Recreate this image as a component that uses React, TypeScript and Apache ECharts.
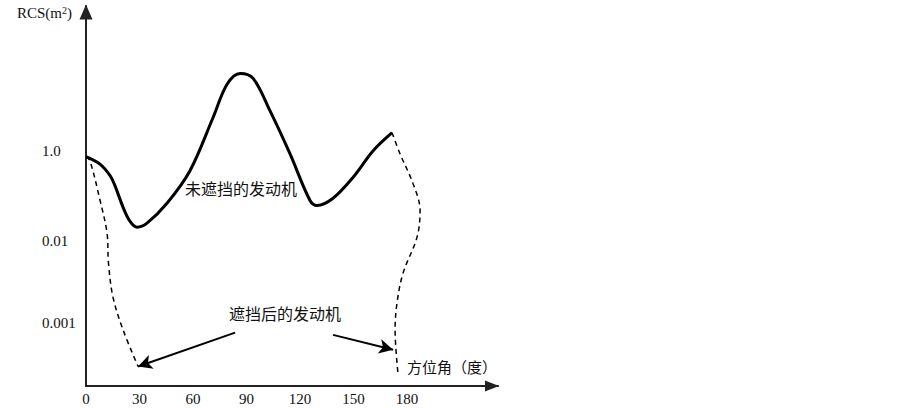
import React, { useEffect, useRef } from "react";
import * as echarts from "echarts";

// x: azimuth (deg); y: relative RCS level (schematic units)
const solidCurve: [number, number][] = [
  [0, -1.3], [8, -3], [13.5, -5.5], [16, -7.5], [20.8, -12.5], [24.5, -15.5], [28.6, -16.9],
  [34.2, -16.0], [45.4, -11.6], [58.3, -4.4], [71.2, 7.3], [79.1, 14.7],
  [86.4, 17.1], [93.7, 16.0], [103.2, 8.8], [114.4, -0.7], [125.6, -11.0],
  [129.6, -12.1], [138.5, -10.5], [149.7, -5.9], [161.0, 0], [171.6, 4.0],
];
const dashedLeft: [number, number][] = [
  [0, -1.3], [2.2, -2.2], [7.9, -11.0], [11.8, -18.2], [12.6, -24.8],
  [15.1, -32.3], [20.8, -39.6], [29.2, -47.7],
];
const dashedRight: [number, number][] = [
  [171.6, 4.0], [176.1, -0.7], [183.4, -7.3], [187.3, -13.2], [185.6, -19.1],
  [177.8, -27.0], [174.4, -33.6], [173.3, -39.6], [175.0, -49.5],
];
const arrowLeft: [number, number][] = [[83.6, -40.2], [29.2, -47.7]];
const arrowRight: [number, number][] = [[138.5, -40.7], [172.2, -44.0]];

const xTickValues = [0, 30, 60, 90, 120, 150, 180];
const yTickValues = [0, -20, -38];
const yTickLabels = ["1.0", "0.01", "0.001"];

const labelUnshielded = "未遮挡的发动机";
const labelShielded = "遮挡后的发动机";
const xAxisName = "方位角（度）";

export default function App() {
  const ref = useRef<HTMLDivElement>(null);
  useEffect(() => {
    if (!ref.current) return;
    const chart = echarts.init(ref.current, null, { renderer: "svg" });
    const serif = "Liberation Serif";
    const cjk = "Noto Sans CJK SC";
    chart.setOption({
      animation: false,
      grid: { left: 86, top: 6, width: 412, height: 380, containLabel: false },
      xAxis: {
        type: "value",
        min: 0,
        max: 231,
        splitLine: { show: false },
        axisTick: { show: false },
        axisLine: {
          show: true,
          onZero: false,
          lineStyle: { color: "#222", width: 2 },
          symbol: ["none", "triangle"],
          symbolSize: [11, 14],
          symbolOffset: [0, -6],
        },
        axisLabel: {
          customValues: xTickValues,
          formatter: (v: number) => String(v),
          fontFamily: serif,
          fontSize: 15,
          color: "#111",
          margin: 5,
        },
      },
      yAxis: {
        type: "value",
        min: -52,
        max: 32,
        splitLine: { show: false },
        axisTick: { show: false },
        axisLine: {
          show: true,
          onZero: false,
          lineStyle: { color: "#222", width: 2 },
          symbol: ["none", "triangle"],
          symbolSize: [13, 15],
          symbolOffset: [0, -6],
        },
        axisLabel: {
          customValues: yTickValues,
          formatter: (v: number) => {
            const i = yTickValues.indexOf(Math.round(v));
            return i >= 0 ? yTickLabels[i] : "";
          },
          fontFamily: serif,
          fontSize: 15,
          color: "#111",
          align: "left",
          margin: 44,
        },
      },
      series: [
        {
          type: "line",
          data: solidCurve,
          smooth: 0.35,
          symbol: "none",
          lineStyle: { color: "#000", width: 3 },
          z: 3,
        },
        {
          type: "line",
          data: dashedLeft,
          smooth: 0.35,
          symbol: "none",
          lineStyle: { color: "#000", width: 1.5, type: [5, 4] },
          markLine: {
            silent: true,
            symbol: ["none", "arrow"],
            symbolSize: [11, 14],
            label: { show: false },
            lineStyle: { color: "#000", width: 2, type: "solid" },
            data: [
              [{ coord: arrowLeft[0] }, { coord: arrowLeft[1] }],
              [{ coord: arrowRight[0] }, { coord: arrowRight[1] }],
            ],
          },
        },
        {
          type: "line",
          data: dashedRight,
          smooth: 0.35,
          symbol: "none",
          lineStyle: { color: "#000", width: 1.5, type: [5, 4] },
        },
      ],
      graphic: [
        {
          type: "text",
          left: 17,
          top: 5,
          style: {
            text: "RCS(m{sup|2})",
            fontFamily: serif,
            fontSize: 15,
            fill: "#111",
            rich: { sup: { fontSize: 10, verticalAlign: "top", fontFamily: serif, padding: [0, 0, 6, 0] } },
          },
        },
        {
          type: "text",
          x: 241,
          y: 188,
          style: { text: labelUnshielded, fontFamily: cjk, fontSize: 16, fill: "#111", align: "center", verticalAlign: "middle" },
        },
        {
          type: "text",
          x: 285,
          y: 313,
          style: { text: labelShielded, fontFamily: cjk, fontSize: 16, fill: "#111", align: "center", verticalAlign: "middle" },
        },
        {
          type: "text",
          x: 407,
          y: 366,
          style: { text: xAxisName, fontFamily: cjk, fontSize: 15, fill: "#111", align: "left", verticalAlign: "middle" },
        },
      ],
    });
    return () => chart.dispose();
  }, []);
  return (
    <div
      ref={ref}
      style={{ position: "fixed", left: 0, top: 0, width: 903, height: 408, background: "#fff" }}
    />
  );
}
